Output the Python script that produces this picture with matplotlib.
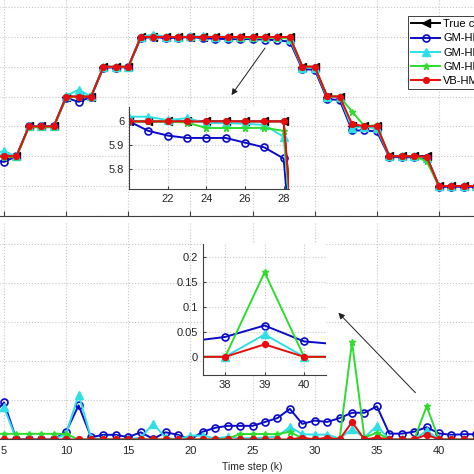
import numpy as np
import matplotlib
matplotlib.use("Agg")
import matplotlib.pyplot as plt

plt.rcParams['font.family'] = ['Liberation Sans', 'DejaVu Sans']

# time steps shown in the crop
k = np.arange(4, 44)

true_card = np.array([2, 2, 2, 3, 3, 3, 4, 4, 4, 5,
                      5, 5, 6, 6, 6, 6, 6, 6, 6, 6,
                      6, 6, 6, 6, 6, 5, 5, 4, 4, 3,
                      3, 3, 2, 2, 2, 2, 1, 1, 1, 1])

# signed estimation errors (estimate - truth)
err_gm1 = np.array([-0.12, -0.19, 0, 0, 0, 0, -0.04, -0.175, -0.012, -0.024,
                    -0.024, -0.012, -0.037, -0.003, -0.037, -0.024, 0, -0.04, -0.06, -0.07,
                    -0.07, -0.07, -0.09, -0.11, -0.157, -0.08, -0.097, -0.09, -0.11, -0.137,
                    -0.137, -0.17, -0.03, -0.03, -0.04, -0.063, -0.031, -0.024, -0.027, -0.027])
err_gm2 = np.array([0.10, 0.165, 0, 0, 0, 0, 0.03, 0.23, 0.01, 0,
                    0, 0, 0.01, 0.08, 0.01, 0, 0.02, 0.02, 0.005, 0.014,
                    -0.007, -0.007, -0.01, -0.015, -0.065, -0.027, -0.025, -0.025, -0.005, -0.053,
                    -0.01, -0.07, 0, 0, 0, -0.045, 0, 0, 0, 0])
err_gm3 = np.array([-0.029, -0.029, -0.029, -0.029, -0.029, -0.029, -0.029, 0, 0, 0,
                    0, 0, 0, 0, 0, 0, 0, 0, 0, -0.005,
                    -0.028, -0.028, -0.028, -0.027, -0.04, 0.005, 0, 0.005, 0, 0.5,
                    0.01, 0.035, 0, 0, 0, -0.17, 0, 0, 0, 0])
err_vb = np.array([0, 0, 0, 0, 0, 0, 0, 0, 0, 0,
                   0, 0, 0, 0, 0, 0, 0, 0, 0, 0,
                   0, 0, 0, 0, 0, 0.01, 0, 0.01, 0, 0.09,
                   0, 0.01, 0, 0, 0, -0.025, 0, 0, 0, 0])

labels = ["True cardinality", "GM-HMB-1", "GM-HMB-2", "GM-HMB-3", "VB-HMB"]

blue = '#0a0ac8'
cyan = '#2ee0e6'
green = '#2edc2e'
red = '#e80c0c'
axcol = '#404040'

styles = [
    dict(color='k', marker='<', ms=5.5, mfc='k'),
    dict(color=blue, marker='o', ms=5, mfc='none', mew=1.2),
    dict(color=cyan, marker='^', ms=5.5, mfc=cyan),
    dict(color=green, marker='*', ms=5, mfc=green),
    dict(color=red, marker='o', ms=4.2, mfc=red),
]

fig = plt.figure(figsize=(4.74, 4.74), dpi=100)

# main axes deliberately run past the figure edges (cropped picture)
top = fig.add_axes([-0.1226, 0.5447, 1.311, 0.503])
bot = fig.add_axes([-0.1226, 0.0728, 1.311, 0.4567])
top_in = fig.add_axes([0.2722, 0.6013, 0.3384, 0.173])
bot_in = fig.add_axes([0.4283, 0.2095, 0.259, 0.2757])


def style_axes(ax, tick_len=3.5):
    ax.grid(True, linestyle=':', color='#c8c8c8', linewidth=0.8)
    ax.set_axisbelow(True)
    for s in ['top', 'right']:
        ax.spines[s].set_visible(False)
    for s in ['left', 'bottom']:
        ax.spines[s].set_color(axcol)
        ax.spines[s].set_linewidth(0.8)
    ax.tick_params(direction='in', length=tick_len, width=0.8, color=axcol,
                   labelsize=8, labelcolor='#262626')


ests = [true_card, true_card + err_gm1, true_card + err_gm2,
        true_card + err_gm3, true_card + err_vb]
errs = [np.abs(err_gm1), np.abs(err_gm2), np.abs(err_gm3), np.abs(err_vb)]

# top: cardinality
for y, lab, st in zip(ests, labels, styles):
    top.plot(k, y, lw=1.4, label=lab, **st)
top.set_xlim(0, 50)
top.set_ylim(0, 8)
top.set_xticks(np.arange(5, 41, 5))
top.set_yticks(np.arange(0, 9, 1))
style_axes(top)
top.tick_params(labelbottom=False, labelleft=False)

leg = top.legend(loc='upper left', bbox_to_anchor=(408 / 474, 1 - 16 / 474),
                 bbox_transform=fig.transFigure, fontsize=8, numpoints=1,
                 handlelength=2.6, handletextpad=0.25, borderpad=0.3,
                 labelspacing=0.37, borderaxespad=0, fancybox=False, framealpha=1)
leg.get_frame().set_edgecolor(axcol)
leg.get_frame().set_linewidth(0.7)

# top zoom inset
for y, st in zip(ests, styles):
    top_in.plot(k, y, lw=1.4, **st)
top_in.set_xlim(20, 28.3)
top_in.set_ylim(5.714, 6.061)
top_in.set_xticks([22, 24, 26, 28])
top_in.set_yticks([5.8, 5.9, 6.0])
top_in.set_yticklabels(['5.8', '5.9', '6'])
style_axes(top_in, tick_len=2)

# bottom: error
for e, st in zip(errs, styles[1:]):
    bot.plot(k, e, lw=1.4, **st)
bot.set_xlim(0, 50)
bot.set_ylim(0, 1.11)
bot.set_xticks(np.arange(5, 41, 5))
bot.set_yticks(np.arange(0, 1.01, 0.2))
style_axes(bot)
bot.tick_params(labelleft=False, pad=5)
bot.set_xlabel('Time step (k)', fontsize=7.5, labelpad=4, color='#262626')

# bottom zoom inset
for e, st in zip(errs, styles[1:]):
    bot_in.plot(k, e, lw=1.4, **st)
bot_in.set_xlim(37.44, 40.55)
bot_in.set_ylim(-0.036, 0.227)
bot_in.set_xticks([38, 39, 40])
bot_in.set_yticks([0, 0.05, 0.1, 0.15, 0.2])
bot_in.set_yticklabels(['0', '0.05', '0.1', '0.15', '0.2'])
style_axes(bot_in, tick_len=2)

arrow = dict(arrowstyle='-|>', lw=0.7, color='#202020', mutation_scale=9,
             shrinkA=0, shrinkB=0)
top.annotate('', xy=(23.3, 4.05), xytext=(26.0, 5.63), arrowprops=arrow)
bot.annotate('', xy=(31.9, 0.65), xytext=(38.1, 0.24), arrowprops=arrow)

fig.savefig('out.png', dpi=100)
